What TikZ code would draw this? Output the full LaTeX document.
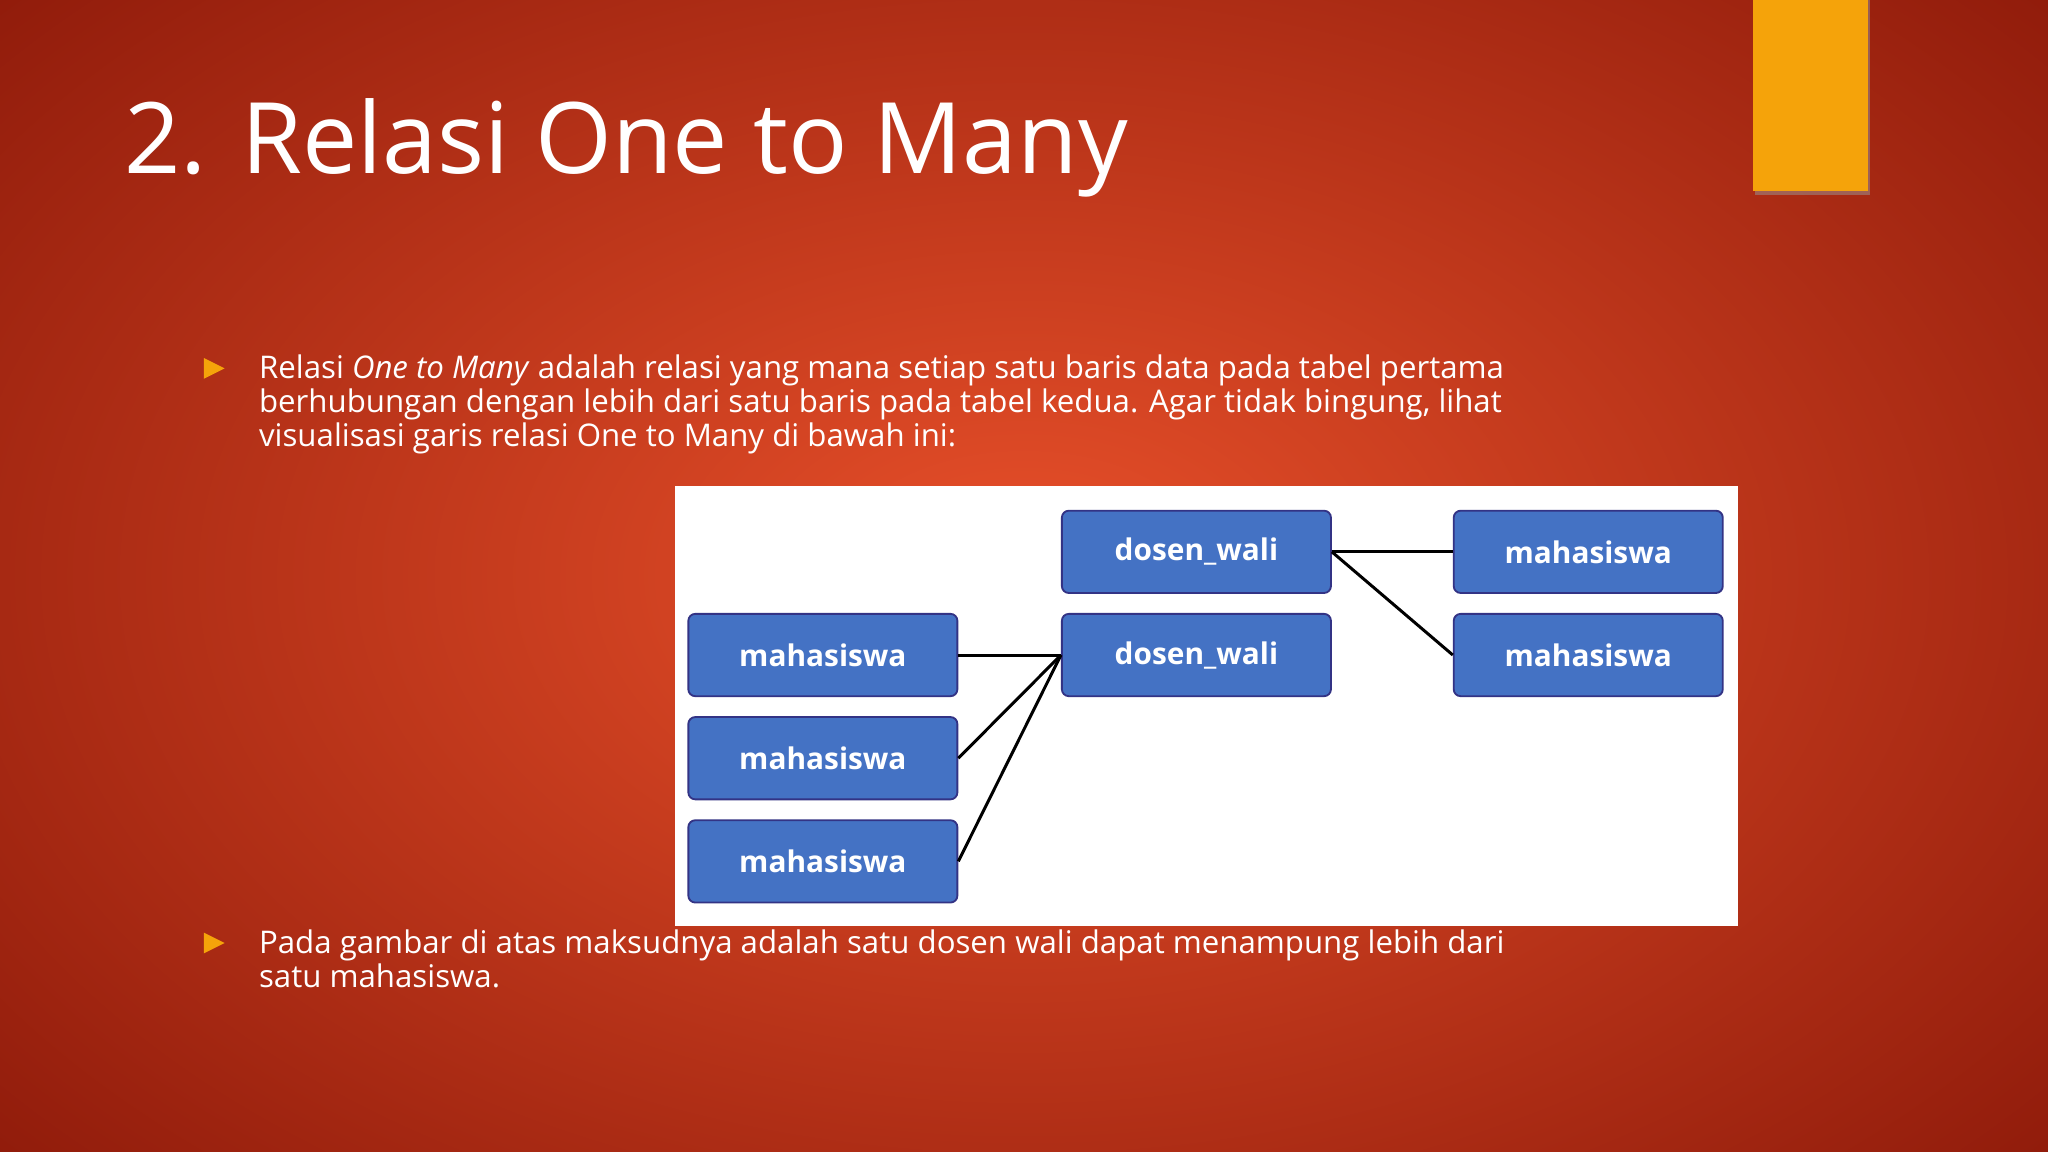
\documentclass[tikz,border=0pt]{standalone}
\usepackage{fontspec}
\setmainfont{Open Sans}
\begin{document}
\begin{tikzpicture}[x=0.02cm,y=-0.02cm,
  box/.style={draw=blue!40!black!80, line width=0.8pt, fill=boxblue, rounded corners=3pt, minimum width=206*0.02cm, minimum height=63*0.02cm, text=white, font=\fontsize{13}{15}\selectfont\bfseries},
  bodytxt/.style={anchor=base west, inner sep=0, text=white, font=\fontsize{13.6}{15}\selectfont},
  bul/.style={fill=bulorange, draw=none},
  conn/.style={line width=1.3pt, black}]
\definecolor{boxblue}{HTML}{4472C4}
\definecolor{bulorange}{HTML}{F5A30A}
\definecolor{bgin}{HTML}{E8502A}
\definecolor{bgout}{HTML}{8E1A0A}
\useasboundingbox (0,0) rectangle (1568,882);
\shade[inner color=bgin, outer color=bgout] (-300,-250) rectangle (1868,1132);
\clip (0,0) rectangle (1568,882);
\fill[black!40, opacity=0.5] (1344,0) rectangle (1432,149);
\fill[bulorange] (1342,0) rectangle (1430,146);
\node[anchor=base west, inner sep=0, text=white, font=\fontsize{43}{50}\selectfont] (title) at (95,133) {2. Relasi One to Many};
\fill[bul] (156,274) -- (172,282) -- (156,290) -- cycle;
\node[bodytxt] (l1) at (198,290) {Relasi \textit{One to Many} adalah relasi yang mana setiap satu baris data pada tabel pertama};
\node[bodytxt] (l2) at (198,316) {berhubungan dengan lebih dari satu baris pada tabel kedua. Agar tidak bingung, lihat};
\node[bodytxt] (l3) at (198,342) {visualisasi garis relasi One to Many di bawah ini:};
\fill[bul] (156,714) -- (172,722) -- (156,730) -- cycle;
\node[bodytxt] (l4) at (198,730) {Pada gambar di atas maksudnya adalah satu dosen wali dapat menampung lebih dari};
\node[bodytxt] (l5) at (198,756) {satu mahasiswa.};
\fill[white] (517,372) rectangle (1331,709);
\node[box] (m1) at (630,501.5) {mahasiswa};
\node[box] (m2) at (630,580.5) {mahasiswa};
\node[box] (m3) at (630,659.5) {mahasiswa};
\node[box] (d1) at (916,422.5) {dosen\_wali};
\node[box] (d2) at (916,501.5) {dosen\_wali};
\node[box] (r1) at (1216,422.5) {mahasiswa};
\node[box] (r2) at (1216,501.5) {mahasiswa};
\draw[conn] (m1.east) -- (d2.west);
\draw[conn] (m2.east) -- (d2.west);
\draw[conn] (m3.east) -- (d2.west);
\draw[conn] (d1.east) -- (r1.west);
\draw[conn] (d1.east) -- (r2.west);
\end{tikzpicture}
\end{document}
